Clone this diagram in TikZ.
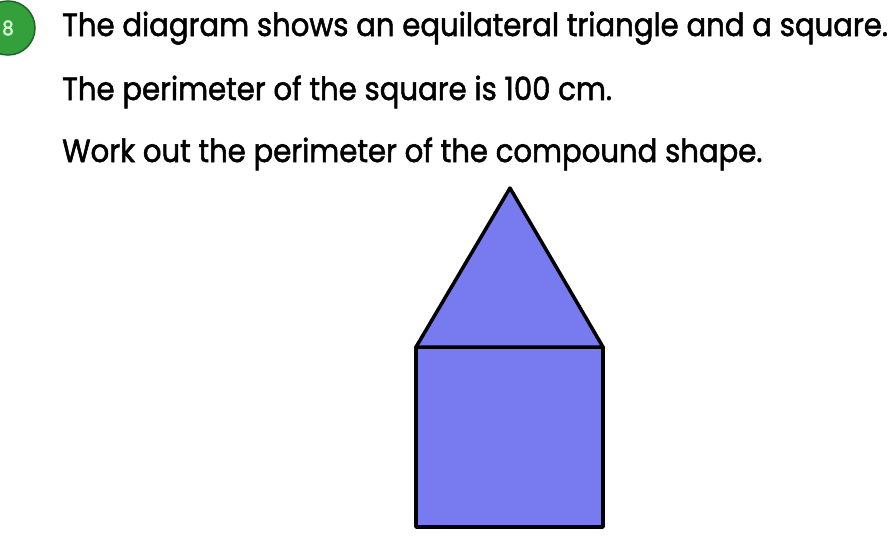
\documentclass[tikz,border=0pt]{standalone}
\usepackage{fontspec}
\setmainfont{Poppins}[FakeStretch=0.91,FakeBold=1.6]
\definecolor{shapefill}{RGB}{120,122,240}
\definecolor{badgegreen}{RGB}{52,160,60}
\definecolor{badgeedge}{RGB}{30,100,40}
\begin{document}
\begin{tikzpicture}[x=1pt,y=-1pt,
  qtext/.style={anchor=base west,inner sep=0pt,font=\fontsize{32}{36}\selectfont},
  shapeline/.style={draw=black,line width=3.5pt,fill=shapefill,line join=round}]
\useasboundingbox (0,0) rectangle (890,538);
\fill[white] (0,0) rectangle (890,538);
\node[circle,fill=badgegreen,draw=badgeedge,line width=1.5pt,minimum size=54pt,inner sep=0pt,
  text=white!85!green,font=\fontsize{20}{22}\selectfont] (badge) at (8,28) {8};
\node[qtext] (l1) at (62,36) {The diagram shows an equilateral triangle and a square.};
\node[qtext] (l2) at (62,100) {The perimeter of the square is 100 cm.};
\node[qtext] (l3) at (62,162) {Work out the perimeter of the compound shape.};
\coordinate (A) at (510,188);
\coordinate (B) at (416,347);
\coordinate (C) at (603,347);
\coordinate (D) at (603,527);
\coordinate (E) at (416,527);
\draw[shapeline] (B) rectangle (D);
\draw[shapeline] (A) -- (C) -- (B) -- cycle;
\end{tikzpicture}
\end{document}
